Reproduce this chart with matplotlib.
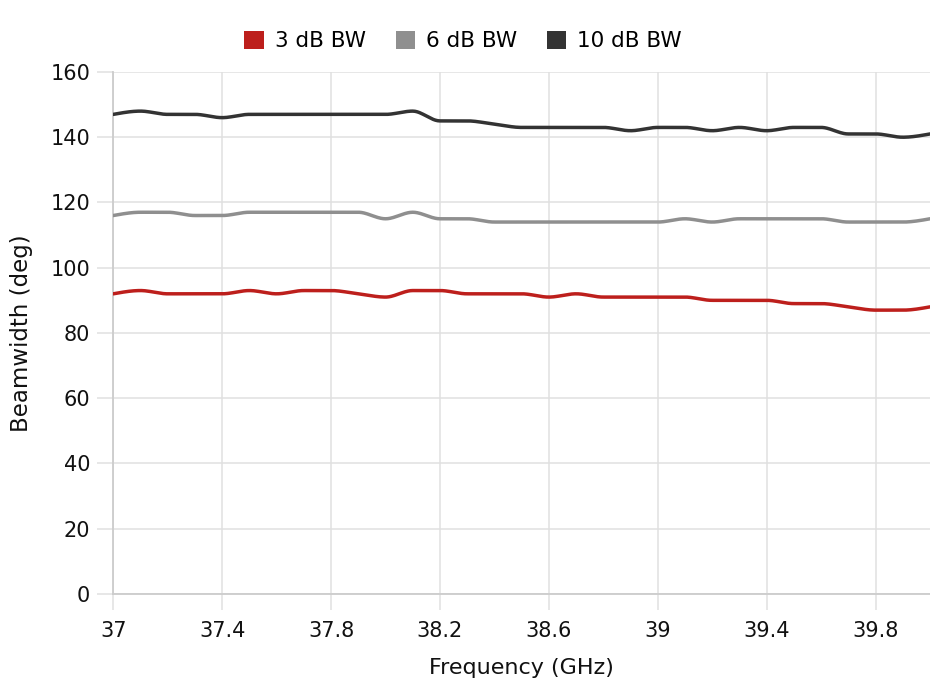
import numpy as np
import matplotlib.pyplot as plt
from matplotlib.patches import Patch

# frequencies, GHz (step 0.1)
freq = [37.0 + 0.1 * i for i in range(31)]

bw_3db = [92, 93, 92, 92, 92, 93, 92, 93, 93, 92, 91, 93, 93, 92, 92, 92,
          91, 92, 91, 91, 91, 91, 90, 90, 90, 89, 89, 88, 87, 87, 88]
bw_6db = [116, 117, 117, 116, 116, 117, 117, 117, 117, 117, 115, 117, 115, 115, 114, 114,
          114, 114, 114, 114, 114, 115, 114, 115, 115, 115, 115, 114, 114, 114, 115]
bw_10db = [147, 148, 147, 147, 146, 147, 147, 147, 147, 147, 147, 148, 145, 145, 144, 143,
           143, 143, 143, 142, 143, 143, 142, 143, 142, 143, 143, 141, 141, 140, 141]

series_names = ['3 dB BW', '6 dB BW', '10 dB BW']
colors = ['#bd1f1c', '#8f8f8f', '#333333']


def monotone(x, y, n=24):
    # monotone cubic (like d3 curveMonotoneX), just for drawing the line
    x = np.asarray(x, float)
    y = np.asarray(y, float)
    h = np.diff(x)
    s = np.diff(y) / h
    m = np.zeros_like(y)
    for k in range(1, len(x) - 1):
        p = (s[k - 1] * h[k] + s[k] * h[k - 1]) / (h[k - 1] + h[k])
        m[k] = (np.sign(s[k - 1]) + np.sign(s[k])) * min(abs(s[k - 1]), abs(s[k]), 0.5 * abs(p))
    m[0] = (3 * s[0] - m[1]) / 2
    m[-1] = (3 * s[-1] - m[-2]) / 2
    xs, ys = [], []
    for k in range(len(x) - 1):
        t = np.linspace(0, 1, n, endpoint=False)
        h00 = 2 * t**3 - 3 * t**2 + 1
        h10 = t**3 - 2 * t**2 + t
        h01 = -2 * t**3 + 3 * t**2
        h11 = t**3 - t**2
        xs.append(x[k] + t * h[k])
        ys.append(h00 * y[k] + h10 * h[k] * m[k] + h01 * y[k + 1] + h11 * h[k] * m[k + 1])
    xs.append([x[-1]])
    ys.append([y[-1]])
    return np.concatenate(xs), np.concatenate(ys)


plt.rcParams['font.family'] = ['DejaVu Sans']

fig = plt.figure(figsize=(9.3, 6.96), dpi=100)
ax = fig.add_axes([0.1218, 0.1466, 1 - 0.1218, 0.75])

for vals, c in zip([bw_3db, bw_6db, bw_10db], colors):
    xs, ys = monotone(freq, vals)
    ax.plot(xs, ys, color=c, lw=2.5, solid_capstyle='round', clip_on=True, zorder=3)

ax.set_xlim(37, 40)
ax.set_ylim(0, 160)
ax.set_xticks([37, 37.4, 37.8, 38.2, 38.6, 39, 39.4, 39.8])
ax.set_xticklabels(['37', '37.4', '37.8', '38.2', '38.6', '39', '39.4', '39.8'])
ax.set_yticks(range(0, 161, 20))

ax.grid(True, color='#e0e0e0', lw=1.1, zorder=0)
ax.set_axisbelow(True)
for side in ['top', 'right']:
    ax.spines[side].set_visible(False)
for side in ['left', 'bottom']:
    ax.spines[side].set_color('#cccccc')
    ax.spines[side].set_linewidth(1.3)
ax.tick_params(axis='both', length=11.5, width=1.1, color='#e0e0e0', labelsize=15, labelcolor='#111111')
ax.tick_params(axis='x', pad=8)
ax.tick_params(axis='y', pad=5)

ax.set_xlabel('Frequency (GHz)', fontsize=16, color='#111111', labelpad=12)
ax.set_ylabel('Beamwidth (deg)', fontsize=16.5, color='#111111')
ax.yaxis.set_label_coords(-0.098, 0.5)

handles = [Patch(facecolor=c, edgecolor='none') for c in colors]
fig.legend(handles, series_names, loc='center', bbox_to_anchor=(0.498, 0.941), ncol=3, frameon=False,
           fontsize=15.5, handlelength=0.9, handleheight=0.9, handletextpad=0.5, columnspacing=1.4)

fig.savefig('out.png', dpi=100)
